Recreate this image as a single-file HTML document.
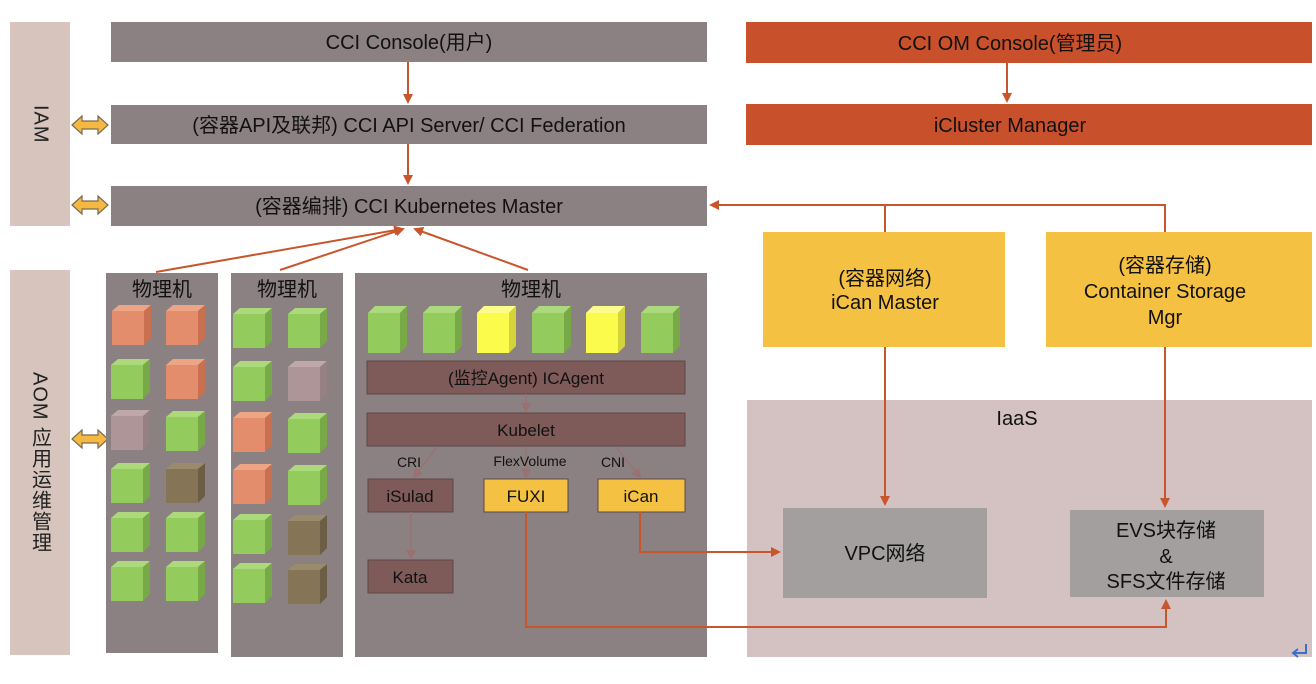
<!DOCTYPE html>
<html><head><meta charset="utf-8"><style>
body{margin:0;width:1316px;height:684px;background:#fff;overflow:hidden;position:relative;font-family:"Liberation Sans","Noto Sans CJK SC",sans-serif}
.v{position:absolute;writing-mode:vertical-rl;display:flex;align-items:center;justify-content:center;color:#222;font-size:20px;background:#d6c4bd;letter-spacing:1px}
svg{position:absolute;left:0;top:0}
</style></head><body>
<div class="v" style="left:10px;top:22px;width:60px;height:204px">IAM</div>
<div class="v" style="left:10px;top:270px;width:60px;height:385px">AOM 应用运维管理</div>
<svg width="1316" height="684" viewBox="0 0 1316 684" font-family="Liberation Sans, Noto Sans CJK SC, sans-serif">
<defs>
<marker id="a" markerWidth="10" markerHeight="10" refX="8" refY="5" orient="auto" markerUnits="userSpaceOnUse"><path d="M0,0 L10,5 L0,10 z" fill="#c8562c"/></marker>
<marker id="b" markerWidth="10" markerHeight="10" refX="8" refY="5" orient="auto" markerUnits="userSpaceOnUse"><path d="M0,0 L10,5 L0,10 z" fill="#9a7070"/></marker>
<g id="dbl"><path d="M2,0 L12,-9 L12,-4 L28,-4 L28,-9 L38,0 L28,9 L28,4 L12,4 L12,9 z" fill="#f5b942" stroke="#7a6a50" stroke-width="1.2"/></g>
<g id="G"><rect x="0" y="6" width="32" height="34" fill="#93cb5c"/><path d="M0,6 L7,0 L39,0 L32,6z" fill="#acd97c"/><path d="M32,6 L39,0 L39,33 L32,40z" fill="#77aa46"/></g>
<g id="O"><rect x="0" y="6" width="32" height="34" fill="#e48d6d"/><path d="M0,6 L7,0 L39,0 L32,6z" fill="#eea585"/><path d="M32,6 L39,0 L39,33 L32,40z" fill="#c8704f"/></g>
<g id="M"><rect x="0" y="6" width="32" height="34" fill="#ae9597"/><path d="M0,6 L7,0 L39,0 L32,6z" fill="#bfa9a8"/><path d="M32,6 L39,0 L39,33 L32,40z" fill="#978083"/></g>
<g id="B"><rect x="0" y="6" width="32" height="34" fill="#857556"/><path d="M0,6 L7,0 L39,0 L32,6z" fill="#9b8b6d"/><path d="M32,6 L39,0 L39,33 L32,40z" fill="#6b5e44"/></g>
<g id="G2"><rect x="0" y="7" width="32" height="40" fill="#93cb5c"/><path d="M0,7 L7,0 L39,0 L32,7z" fill="#acd97c"/><path d="M32,7 L39,0 L39,40 L32,47z" fill="#77aa46"/></g>
<g id="Y2"><rect x="0" y="7" width="32" height="40" fill="#fbfb4c"/><path d="M0,7 L7,0 L39,0 L32,7z" fill="#fcfc8c"/><path d="M32,7 L39,0 L39,40 L32,47z" fill="#d4d43a"/></g>
</defs>
<g font-size="20" fill="#111" text-anchor="middle">
<rect x="111" y="22" width="596" height="40" fill="#8b8182"/><text x="409" y="49">CCI Console(用户)</text>
<rect x="111" y="105" width="596" height="39" fill="#8b8182"/><text x="409" y="132">(容器API及联邦)  CCI API Server/ CCI Federation</text>
<rect x="111" y="186" width="596" height="40" fill="#8b8182"/><text x="409" y="213">(容器编排)  CCI Kubernetes Master</text>
<rect x="746" y="22" width="566" height="41" fill="#c8502a"/><text x="1010" y="50">CCI OM Console(管理员)</text>
<rect x="746" y="104" width="566" height="41" fill="#c8502a"/><text x="1010" y="132">iCluster Manager</text>
</g>
<g stroke="#c8562c" stroke-width="2" fill="none">
<line x1="408" y1="62" x2="408" y2="102" marker-end="url(#a)"/>
<line x1="408" y1="144" x2="408" y2="183" marker-end="url(#a)"/>
<line x1="1007" y1="63" x2="1007" y2="101" marker-end="url(#a)"/>
<line x1="156" y1="272" x2="402" y2="229" marker-end="url(#a)"/>
<line x1="280" y1="270" x2="403" y2="229" marker-end="url(#a)"/>
<line x1="528" y1="270" x2="415" y2="229" marker-end="url(#a)"/>
<polyline points="885,232 885,205 1165,205 1165,232"/>
<line x1="885" y1="205" x2="711" y2="205" marker-end="url(#a)"/>
</g>
<use href="#dbl" x="70" y="125"/><use href="#dbl" x="70" y="205"/><use href="#dbl" x="70" y="439"/>
<rect x="106" y="273" width="112" height="380" fill="#8b8182"/>
<rect x="231" y="273" width="112" height="384" fill="#8b8182"/>
<rect x="355" y="273" width="352" height="384" fill="#8b8182"/>
<g font-size="20" fill="#111" text-anchor="middle"><text x="162" y="296">物理机</text><text x="287" y="296">物理机</text><text x="531" y="296">物理机</text></g>
<use href="#O" x="112" y="305"/><use href="#O" x="166" y="305"/>
<use href="#G" x="111" y="359"/><use href="#O" x="166" y="359"/>
<use href="#M" x="111" y="410"/><use href="#G" x="166" y="411"/>
<use href="#G" x="111" y="463"/><use href="#B" x="166" y="463"/>
<use href="#G" x="111" y="512"/><use href="#G" x="166" y="512"/>
<use href="#G" x="111" y="561"/><use href="#G" x="166" y="561"/>
<use href="#G" x="233" y="308"/><use href="#G" x="288" y="308"/>
<use href="#G" x="233" y="361"/><use href="#M" x="288" y="361"/>
<use href="#O" x="233" y="412"/><use href="#G" x="288" y="413"/>
<use href="#O" x="233" y="464"/><use href="#G" x="288" y="465"/>
<use href="#G" x="233" y="514"/><use href="#B" x="288" y="515"/>
<use href="#G" x="233" y="563"/><use href="#B" x="288" y="564"/>
<use href="#G2" x="368" y="306"/><use href="#G2" x="423" y="306"/><use href="#Y2" x="477" y="306"/>
<use href="#G2" x="532" y="306"/><use href="#Y2" x="586" y="306"/><use href="#G2" x="641" y="306"/>
<g stroke="#5e4747" stroke-width="1">
<rect x="367" y="361" width="318" height="33" fill="#7e5a58"/>
<rect x="367" y="413" width="318" height="33" fill="#7e5a58"/>
<rect x="368" y="479" width="85" height="33" fill="#7e5a58"/>
<rect x="484" y="479" width="84" height="33" fill="#f5c142"/>
<rect x="598" y="479" width="87" height="33" fill="#f5c142"/>
<rect x="368" y="560" width="85" height="33" fill="#7e5a58"/>
</g>
<g stroke="#9a7070" stroke-width="1.3" fill="none">
<line x1="526" y1="394" x2="526" y2="411" marker-end="url(#b)"/>
<line x1="437" y1="447" x2="414" y2="477" marker-end="url(#b)"/>
<line x1="526" y1="447" x2="526" y2="477" marker-end="url(#b)"/>
<line x1="616" y1="447" x2="640" y2="477" marker-end="url(#b)"/>
<line x1="411" y1="512" x2="411" y2="558" marker-end="url(#b)"/>
</g>
<g font-size="17" fill="#111" text-anchor="middle">
<text x="526" y="384">(监控Agent)  ICAgent</text>
<text x="526" y="436">Kubelet</text>
<text x="410" y="502">iSulad</text><text x="526" y="502">FUXI</text><text x="641" y="502">iCan</text>
<text x="410" y="583">Kata</text>
</g>
<g font-size="14" fill="#111" text-anchor="middle"><text x="409" y="467">CRI</text><text x="530" y="466">FlexVolume</text><text x="613" y="467">CNI</text></g>
<rect x="747" y="400" width="565" height="257" fill="#d4c1c1"/>
<text x="1017" y="425" font-size="20" text-anchor="middle" fill="#111">IaaS</text>
<rect x="763" y="232" width="242" height="115" fill="#f5c142"/>
<rect x="1046" y="232" width="266" height="115" fill="#f5c142"/>
<g font-size="20" fill="#111" text-anchor="middle">
<text x="885" y="285">(容器网络)</text><text x="885" y="309">iCan Master</text>
<text x="1165" y="272">(容器存储)</text><text x="1165" y="298">Container Storage</text><text x="1165" y="324">Mgr</text>
</g>
<rect x="783" y="508" width="204" height="90" fill="#a39f9f"/>
<rect x="1070" y="510" width="194" height="87" fill="#a39f9f"/>
<g font-size="20" fill="#111" text-anchor="middle">
<text x="885" y="560">VPC网络</text>
<text x="1166" y="537">EVS块存储</text><text x="1166" y="563">&amp;</text><text x="1166" y="588">SFS文件存储</text>
</g>
<g stroke="#c8562c" stroke-width="2" fill="none">
<line x1="885" y1="347" x2="885" y2="504" marker-end="url(#a)"/>
<line x1="1165" y1="347" x2="1165" y2="506" marker-end="url(#a)"/>
<polyline points="640,512 640,552 779,552" marker-end="url(#a)"/>
<polyline points="526,512 526,627 1166,627 1166,601" marker-end="url(#a)"/>
</g>
<path d="M1306,644 L1306,653 L1294,653 M1298,649 L1293,653 L1298,657" stroke="#3a6fd0" stroke-width="2" fill="none"/>
</svg>
</body></html>
